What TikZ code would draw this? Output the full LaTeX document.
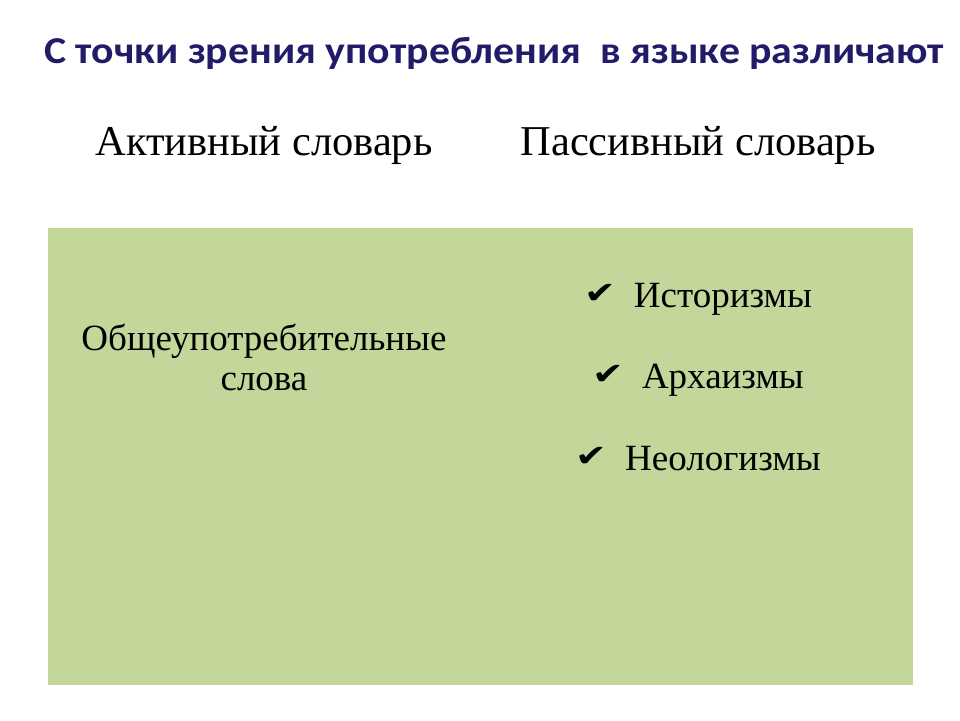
\documentclass[tikz,border=0pt]{standalone}
\usepackage{fontspec}
\setmainfont{Liberation Serif}
\newfontfamily\titulofont[FakeStretch=1.1]{Carlito}
\newfontfamily\simbolofont{DejaVu Sans}
\definecolor{azulescuro}{RGB}{34,28,104}
\definecolor{verdefundo}{RGB}{196,215,155}
\begin{document}
\begin{tikzpicture}[x=1pt, y=-1pt,
    every node/.style={inner sep=0pt, anchor=base},
    titulo/.style={font=\titulofont\bfseries\fontsize{38}{46}\selectfont, text=azulescuro},
    cabecalho/.style={font=\fontsize{42.5}{48}\selectfont},
    texto/.style={font=\fontsize{37}{40}\selectfont, align=center}]
  \useasboundingbox (0,0) rectangle (960,720);

  % 1. Titulo e os dois cabecalhos
  \node[titulo] (titulo) at (494,63) {С точки зрения употребления \ в языке различают};
  \node[cabecalho] (ativo) at (264,155) {Активный словарь};
  \node[cabecalho] (passivo) at (698,155) {Пассивный словарь};

  % 2. Fundo verde
  \fill[verdefundo] (48,228) rectangle (913,685);
  \node[texto] (geral) at (264,390) {Общеупотребительные\\слова}; % base = ultima linha

  % 3. Lista com marcas de verificacao
  \foreach \nome/\palavra/\y in {hist/Историзмы/307, arc/Архаизмы/388, neo/Неологизмы/470} {
    \node[texto] (\nome) at (698,\y) {\raisebox{4pt}{\scalebox{1}[0.8]{\simbolofont\fontsize{38}{38}\selectfont ✔}}\hspace{18pt}\palavra};
  }
\end{tikzpicture}
\end{document}
